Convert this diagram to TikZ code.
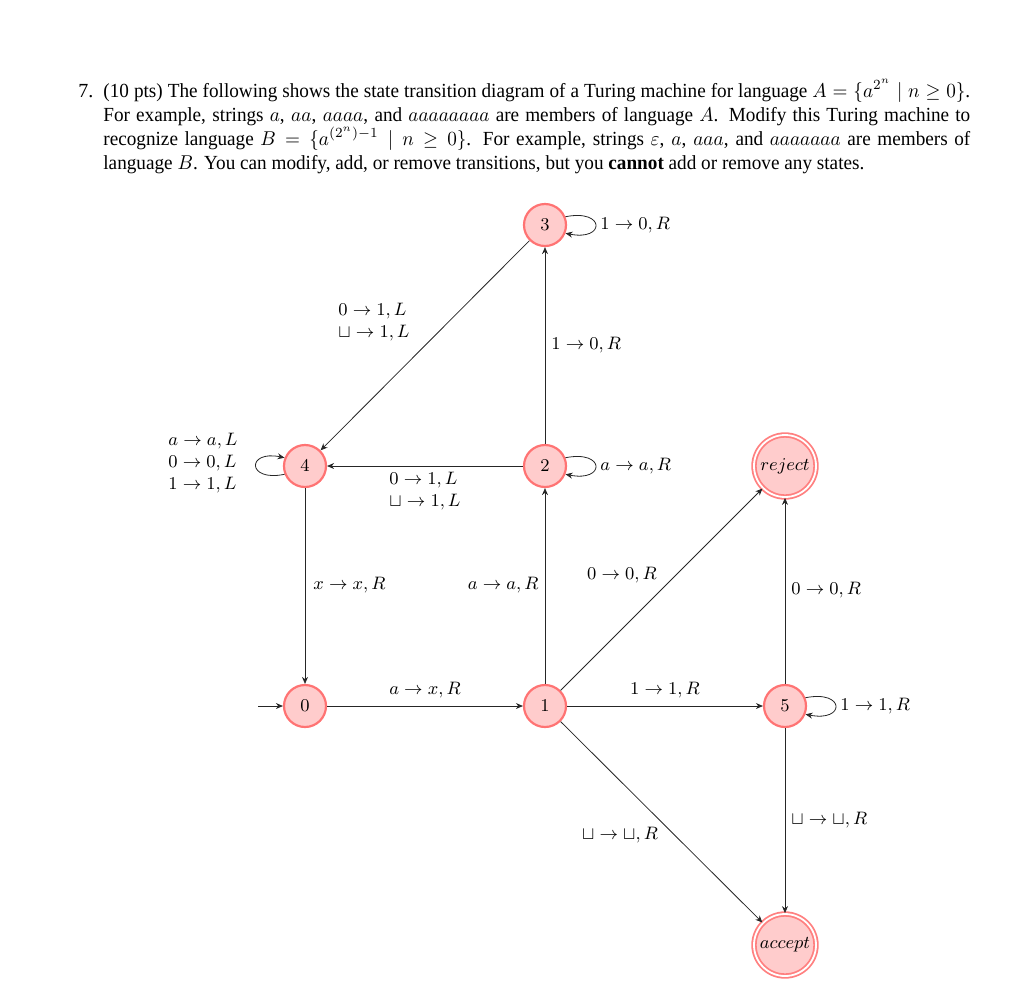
\documentclass[tikz,border=0pt]{standalone}
\usepackage{fontspec}
\setmainfont{Liberation Serif}
\usetikzlibrary{arrows.meta}
\begin{document}
\begin{tikzpicture}[x=0.5pt,y=-0.5pt,
  >={Stealth[length=3.5pt,width=3pt]},
  st/.style={circle,draw=red!55,line width=1.1pt,fill=red!20,minimum size=21pt,inner sep=0pt,font=\small},
  acc/.style={circle,draw=red!50,double=white,double distance=0.9pt,line width=0.9pt,fill=red!20,minimum size=31pt,inner sep=0pt,font=\small},
  edge/.style={->,draw=black!85,line width=0.4pt},
  lbl/.style={font=\small,inner sep=1pt,align=left}]
\useasboundingbox (0,0) rectangle (1024,1003);
\node[anchor=base west,inner sep=0pt] (num) at (78,97) {7.};
\node[anchor=base west,inner sep=0pt] (txt) at (103,97)
{\scalebox{0.96}[1]{\parbox[t]{451.5pt}{\sloppy
(10 pts) The following shows the state transition diagram of a Turing machine for language $A = \{a^{2^n} \mid n \geq 0\}$.\linebreak
For example, strings $a$, $aa$, $aaaa$, and $aaaaaaaa$ are members of language $A$. Modify this Turing machine to\linebreak
recognize language $B = \{a^{(2^n)-1} \mid n \geq 0\}$. For example, strings $\varepsilon$, $a$, $aaa$, and $aaaaaaa$ are members of\linebreak
language $B$. You can modify, add, or remove transitions, but you \textbf{cannot} add or remove any states.}}};

\node[st] (n3) at (545,225) {$3$};
\node[st] (n2) at (545,466) {$2$};
\node[st] (n4) at (305,466) {$4$};
\node[st] (n0) at (305,706) {$0$};
\node[st] (n1) at (545,706) {$1$};
\node[st] (n5) at (785,706) {$5$};
\node[acc] (rej) at (785,466) {$reject$};
\node[acc] (acc) at (785,945) {$accept$};
\coordinate (start) at (258,706);

\draw[edge] (n3) -- (n4);
\draw[edge] (n2) -- (n3);
\draw[edge] (n2) -- (n4);
\draw[edge] (n4) -- (n0);
\draw[edge] (start) -- (n0);
\draw[edge] (n0) -- (n1);
\draw[edge] (n1) -- (n2);
\draw[edge] (n1) -- (rej);
\draw[edge] (n1) -- (n5);
\draw[edge] (n5) -- (rej);
\draw[edge] (n1) -- (acc);
\draw[edge] (n5) -- (acc);

\draw[edge] (n3.22) .. controls +(20pt,4pt) and +(20pt,-4pt) .. (n3.-22);
\draw[edge] (n2.22) .. controls +(20pt,4pt) and +(20pt,-4pt) .. (n2.-22);
\draw[edge] (n5.22) .. controls +(20pt,4pt) and +(20pt,-4pt) .. (n5.-22);
\draw[edge] (n4.202) .. controls +(-19pt,-4pt) and +(-19pt,4pt) .. (n4.158);

\node[lbl,anchor=west] (l33) at (598,225) {$1 \rightarrow 0, R$};
\node[lbl,anchor=west] (l22) at (598,466) {$a \rightarrow a, R$};
\node[lbl,anchor=west] (l55) at (838,706) {$1 \rightarrow 1, R$};
\node[lbl,anchor=east] (l44) at (240,463) {$a \rightarrow a, L$\\$0 \rightarrow 0, L$\\$1 \rightarrow 1, L$};
\node[lbl] (l34) at (374,322) {$0 \rightarrow 1, L$\\$\sqcup \rightarrow 1, L$};
\node[lbl,anchor=west] (l23) at (549,345) {$1 \rightarrow 0, R$};
\node[lbl] (l24) at (425,491) {$0 \rightarrow 1, L$\\$\sqcup \rightarrow 1, L$};
\node[lbl,anchor=west] (l40) at (311,585) {$x \rightarrow x, R$};
\node[lbl] (l01) at (425,690) {$a \rightarrow x, R$};
\node[lbl,anchor=east] (l12) at (541,585) {$a \rightarrow a, R$};
\node[lbl] (l1r) at (622,575) {$0 \rightarrow 0, R$};
\node[lbl] (l15) at (665,690) {$1 \rightarrow 1, R$};
\node[lbl,anchor=west] (l5r) at (789,590) {$0 \rightarrow 0, R$};
\node[lbl] (l1a) at (620,835) {$\sqcup \rightarrow \sqcup, R$};
\node[lbl,anchor=west] (l5a) at (789,820) {$\sqcup \rightarrow \sqcup, R$};
\end{tikzpicture}
\end{document}
